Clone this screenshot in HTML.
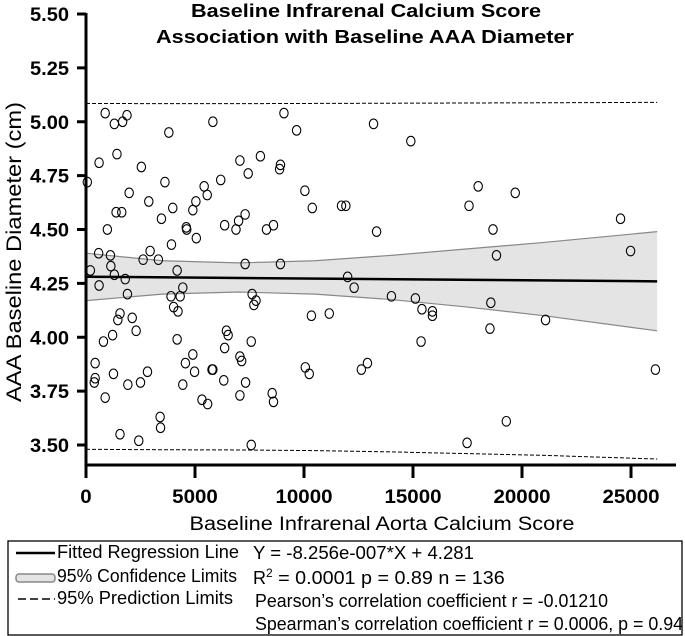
<!DOCTYPE html>
<html><head><meta charset="utf-8"><style>
html,body{margin:0;padding:0;background:#fff;}
svg{display:block;font-family:"Liberation Sans",Arial,sans-serif;}
</style></head><body>
<svg id="chart" width="685" height="636" viewBox="0 0 685 636" xmlns="http://www.w3.org/2000/svg">
<g id="plot"></g>
</svg>
<script>
const xTicks=[0,5000,10000,15000,20000,25000];
const yTicks=[3.50,3.75,4.00,4.25,4.50,4.75,5.00,5.25,5.50];
const ptX=[60,200,880,1300,1680,1880,600,1420,580,980,1380,1640,1120,1140,1300,1800,600,1900,1560,1460,2120,2300,1220,800,420,420,380,1260,880,1920,2500,2820,1980,2540,2880,3800,3620,3980,3460,2940,2620,3320,3920,4180,3900,4320,4020,4220,4440,4180,4900,4560,4980,4440,5820,5420,5560,5040,4900,4600,4620,5060,6180,6360,6880,7000,7300,7060,7440,8000,8920,8880,8280,8600,7300,8920,7620,7800,7700,6440,6520,6360,7580,7060,7140,5820,5780,6320,7320,7060,8540,8600,5320,5580,3400,1560,2420,3420,7580,17480,19280,9080,9660,10040,10380,11720,11920,13190,13330,14900,12000,12300,10340,11160,10060,10240,12630,12910,14010,15110,15410,15890,15890,15370,17570,17990,19690,18670,18830,18570,18530,21080,24520,24980,26120];
const ptY=[4.72,4.31,5.04,4.99,5.00,5.03,4.81,4.85,4.39,4.50,4.58,4.58,4.38,4.33,4.29,4.27,4.24,4.20,4.11,4.08,4.09,4.03,4.01,3.98,3.88,3.81,3.79,3.83,3.72,3.78,3.79,3.84,4.67,4.79,4.63,4.95,4.72,4.60,4.55,4.40,4.36,4.36,4.43,4.31,4.19,4.19,4.14,4.12,4.23,3.99,3.92,3.88,3.84,3.78,5.00,4.70,4.66,4.63,4.59,4.51,4.50,4.46,4.73,4.52,4.50,4.54,4.57,4.82,4.76,4.84,4.80,4.78,4.50,4.52,4.34,4.34,4.20,4.17,4.15,4.03,4.01,3.95,3.98,3.91,3.89,3.85,3.85,3.80,3.79,3.73,3.74,3.70,3.71,3.69,3.63,3.55,3.52,3.58,3.50,3.51,3.61,5.04,4.96,4.68,4.60,4.61,4.61,4.99,4.49,4.91,4.28,4.23,4.10,4.11,3.86,3.83,3.85,3.88,4.19,4.18,4.13,4.12,4.10,3.98,4.61,4.70,4.67,4.50,4.38,4.16,4.04,4.08,4.55,4.40,3.85];
const slope=-8.256e-7, intercept=4.281;
const bandX=[0,3500,7000,10500,14000,17500,21000,26200];
const ciUpper=[4.39,4.355,4.345,4.355,4.38,4.41,4.44,4.49];
const ciLower=[4.17,4.20,4.21,4.20,4.175,4.14,4.10,4.03];
const piUpper=[5.085,5.084,5.084,5.085,5.086,5.087,5.088,5.09];
const piLower=[3.48,3.478,3.477,3.474,3.468,3.46,3.452,3.435];
const xMax=26200;

const NS="http://www.w3.org/2000/svg";
const g=document.getElementById('plot');
const X0=86,XPER=(631-86)/25000;
const Y0=14,YPER=(445-14)/2;
const sx=v=>X0+v*XPER;
const sy=v=>Y0+(5.5-v)*YPER;
function mk(t,a,txt){const e=document.createElementNS(NS,t);for(const k in a)e.setAttribute(k,a[k]);if(txt!==undefined)e.textContent=txt;g.appendChild(e);return e;}

let d='M'+bandX.map((x,i)=>sx(x)+','+sy(ciUpper[i])).join(' L');
d+=' L'+bandX.slice().reverse().map((x,i)=>sx(x)+','+sy(ciLower[bandX.length-1-i])).join(' L')+' Z';
let e=mk('path',{d:d,fill:'#e4e4e4',stroke:'none'});


e=mk('polyline',{points:bandX.map((x,i)=>sx(x)+','+sy(ciUpper[i])).join(' '),fill:'none',stroke:'#888','stroke-width':1.2});


e=mk('polyline',{points:bandX.map((x,i)=>sx(x)+','+sy(ciLower[i])).join(' '),fill:'none',stroke:'#888','stroke-width':1.2});


e=mk('polyline',{points:bandX.map((x,i)=>sx(x)+','+sy(piUpper[i])).join(' '),fill:'none',stroke:'#000','stroke-width':1,'stroke-dasharray':'4,2'});


e=mk('polyline',{points:bandX.map((x,i)=>sx(x)+','+sy(piLower[i])).join(' '),fill:'none',stroke:'#000','stroke-width':1,'stroke-dasharray':'4,2'});


e=mk('line',{x1:sx(0),y1:sy(intercept),x2:sx(xMax),y2:sy(intercept+slope*xMax),stroke:'#000','stroke-width':2.5});



for(let i=0;i<ptX.length;i++){
  e=mk('ellipse',{cx:sx(ptX[i]),cy:sy(ptY[i]),rx:4.2,ry:4.8,fill:'none',stroke:'#000','stroke-width':1.1});
  
  
}

e=mk('line',{x1:X0,y1:Y0-1,x2:X0,y2:466,stroke:'#000','stroke-width':3});


e=mk('line',{x1:X0-1.5,y1:465,x2:676,y2:465,stroke:'#000','stroke-width':3});


yTicks.forEach(v=>{
  const t=mk('line',{x1:X0-9,y1:sy(v),x2:X0,y2:sy(v),stroke:'#000','stroke-width':3});
  
  
  const l=mk('text',{x:X0-17,y:sy(v)+7,'text-anchor':'end','font-size':19,'font-weight':'bold',textLength:39,lengthAdjust:'spacingAndGlyphs'},v.toFixed(2));
  
  
});
xTicks.forEach(v=>{
  const s=String(v);
  const t=mk('line',{x1:sx(v),y1:465,x2:sx(v),y2:478,stroke:'#000','stroke-width':3});
  
  
  const l=mk('text',{x:sx(v),y:503,'text-anchor':'middle','font-size':19,'font-weight':'bold',textLength:s.length*11.4,lengthAdjust:'spacingAndGlyphs'},s);
  
  
});
</script>
<script>
(function(){
const svg=document.getElementById('chart');
const NS="http://www.w3.org/2000/svg";
function mk(t,a,txt){const e=document.createElementNS(NS,t);for(const k in a)e.setAttribute(k,a[k]);if(txt!==undefined)e.textContent=txt;svg.appendChild(e);return e;}
let e;
e=mk('text',{x:366,y:17,'text-anchor':'middle','font-size':18.5,'font-weight':'bold',textLength:350,lengthAdjust:'spacingAndGlyphs'},'Baseline Infrarenal Calcium Score');


e=mk('text',{x:365,y:43,'text-anchor':'middle','font-size':18.5,'font-weight':'bold',textLength:418,lengthAdjust:'spacingAndGlyphs'},'Association with Baseline AAA Diameter');


e=mk('text',{x:0,y:0,'text-anchor':'middle','font-size':21,textLength:300,lengthAdjust:'spacingAndGlyphs',transform:'translate(21,252) rotate(-90)'},'AAA Baseline Diameter (cm)');


e=mk('text',{x:382,y:530,'text-anchor':'middle','font-size':19,textLength:385,lengthAdjust:'spacingAndGlyphs'},'Baseline Infrarenal Aorta Calcium Score');


e=mk('rect',{x:8,y:541,width:674,height:94,fill:'none',stroke:'#000','stroke-width':1.3});


e=mk('line',{x1:16,y1:553,x2:55,y2:553,stroke:'#000','stroke-width':2.5});


e=mk('rect',{x:16,y:574,width:39,height:8,rx:3,fill:'#e4e4e4',stroke:'#888','stroke-width':1.5});


e=mk('line',{x1:18,y1:599,x2:55,y2:599,stroke:'#000','stroke-width':1.5,'stroke-dasharray':'8,4'});


const fs=18;
function t(x,y,s,n,w){const el=mk('text',{x:x,y:y,'font-size':fs,textLength:w,lengthAdjust:'spacingAndGlyphs'},s);return el;}
t(57,558,'Fitted Regression Line','legend-regression-label',182);
t(57,582,'95% Confidence Limits','legend-confidence-label',180);
t(57,604,'95% Prediction Limits','legend-prediction-label',176);
t(253,559,'Y = -8.256e-007*X + 4.281','equation-text',221);
e=mk('text',{x:253,y:584,'font-size':fs},'');


e.innerHTML='R<tspan dy="-7" font-size="12">2</tspan><tspan dy="7" textLength="232" lengthAdjust="spacingAndGlyphs"> = 0.0001  p = 0.89  n = 136</tspan>';
t(255,607,'Pearson\u2019s correlation coefficient r = -0.01210','pearson-text',353);
t(255,630,'Spearman\u2019s correlation coefficient r = 0.0006, p = 0.94','spearman-text',428);
})();
</script>
</body></html>
